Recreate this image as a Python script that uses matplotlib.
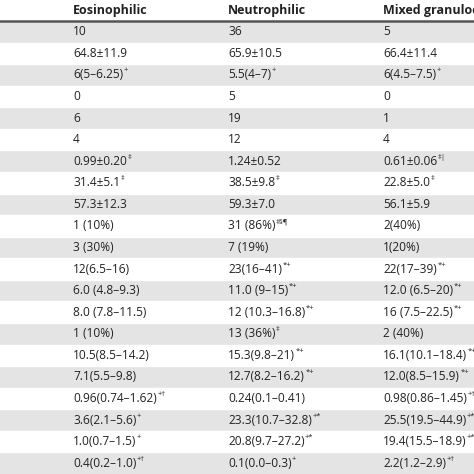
import matplotlib.pyplot as plt

headers = ["Eosinophilic", "Neutrophilic", "Mixed granulocytic"]
# cell text, superscript marks after "^"
eosinophilic = ["10", "64.8±11.9", "6(5–6.25)^+", "0", "6", "4", "0.99±0.20^‡", "31.4±5.1^‡",
                "57.3±12.3", "1 (10%)", "3 (30%)", "12(6.5–16)", "6.0 (4.8–9.3)", "8.0 (7.8–11.5)",
                "1 (10%)", "10.5(8.5–14.2)", "7.1(5.5–9.8)", "0.96(0.74–1.62)^+†", "3.6(2.1–5.6)^+",
                "1.0(0.7–1.5)^+", "0.4(0.2–1.0)^+†"]
neutrophilic = ["36", "65.9±10.5", "5.5(4–7)^+", "5", "19", "12", "1.24±0.52", "38.5±9.8^‡",
                "59.3±7.0", "31 (86%)^‡§¶", "7 (19%)", "23(16–41)^*+", "11.0 (9–15)^*+",
                "12 (10.3–16.8)^*+", "13 (36%)^‡", "15.3(9.8–21)^*+", "12.7(8.2–16.2)^*+",
                "0.24(0.1–0.41)", "23.3(10.7–32.8)^+*", "20.8(9.7–27.2)^+*", "0.1(0.0–0.3)^+"]
mixed = ["5", "66.4±11.4", "6(4.5–7.5)^+", "0", "1", "4", "0.61±0.06^‡|", "22.8±5.0^‡",
         "56.1±5.9", "2(40%)", "1(20%)", "22(17–39)^*+", "12.0 (6.5–20)^*+", "16 (7.5–22.5)^*+",
         "2 (40%)", "16.1(10.1–18.4)^*+", "12.0(8.5–15.9)^*+", "0.98(0.86–1.45)^+†",
         "25.5(19.5–44.9)^+*", "19.4(15.5–18.9)^+*", "2.2(1.2–2.9)^+†"]

W = H = 474
fig = plt.figure(figsize=(4.74, 4.74), dpi=100)
ax = fig.add_axes([0, 0, 1, 1])
ax.set_xlim(0, W)
ax.set_ylim(H, 0)
ax.axis("off")

font = "Open Sans"
col_x = [73, 228, 383]
top = 21
n = len(eosinophilic)
rh = (H - top) / n

for i in range(n):
    y0 = top + i * rh
    if i % 2 == 0:
        ax.axhspan(y0, y0 + rh, color="#e4e4e4", lw=0)
    ax.axhline(y0, color="white", lw=1)
ax.axhline(top, color="#555555", lw=1.8)

for x, h in zip(col_x, headers):
    ax.text(x, 10, h, fontsize=9, fontweight="bold", family=font, va="center", color="#222222")

fig.canvas.draw()
renderer = fig.canvas.get_renderer()
for x, col in zip(col_x, [eosinophilic, neutrophilic, mixed]):
    for i, s in enumerate(col):
        base, _, sup = s.partition("^")
        yc = top + (i + 0.5) * rh
        t = ax.text(x, yc, base, fontsize=8.6, family=font, va="center", color="#222222")
        if sup:
            bb = t.get_window_extent(renderer)
            ax.text(x + bb.width + 0.5, yc - 4, sup, fontsize=5.5, family=font,
                    va="center", color="#222222")

fig.savefig("out.png", dpi=100)
